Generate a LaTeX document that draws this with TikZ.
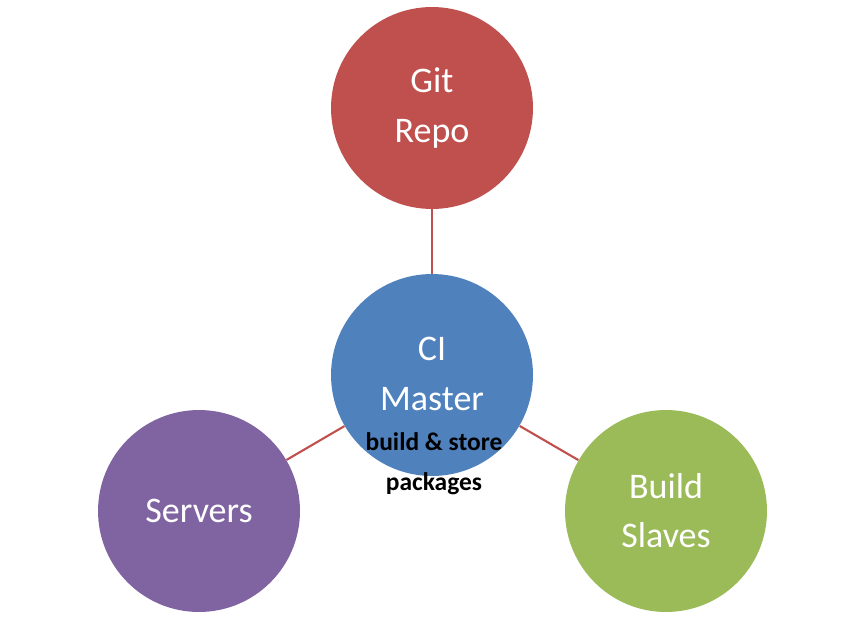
\documentclass[tikz,border=0pt]{standalone}
\usepackage{fontspec}
\setmainfont{Carlito}
\definecolor{gitred}{HTML}{C0504D}
\definecolor{ciblue}{HTML}{4F81BD}
\definecolor{srvpurple}{HTML}{8064A2}
\definecolor{slvgreen}{HTML}{9BBB59}
\begin{document}
\begin{tikzpicture}[x=0.02cm,y=-0.02cm,
    hub/.style={circle,minimum size=4.04cm,inner sep=0pt,text=white,align=center,
        font=\fontsize{20.5}{28}\selectfont},
    link/.style={draw=gitred,line width=1.2pt}]
    \useasboundingbox (0,0) rectangle (864,618);

    % Circles
    \node[hub,fill=gitred] (git) at (432,108) {Git\\Repo};
    \node[hub,fill=ciblue] (ci) at (432,375) {};
    \node[hub,fill=srvpurple] (servers) at (199,511) {Servers};
    \node[hub,fill=slvgreen] (slaves) at (666,511) {Build\\Slaves};

    % Texts in the centre circle
    \node[text=white,align=center,font=\fontsize{20.5}{28}\selectfont] (citext) at (432,374) {CI\\Master};
    \node[align=center,font=\bfseries\fontsize{14.5}{23}\selectfont] (cinote) at (434,464) {build \& store\\packages};

    % Connectors
    \draw[link] (git) -- (ci);
    \draw[link] (ci) -- (servers);
    \draw[link] (ci) -- (slaves);
\end{tikzpicture}
\end{document}
